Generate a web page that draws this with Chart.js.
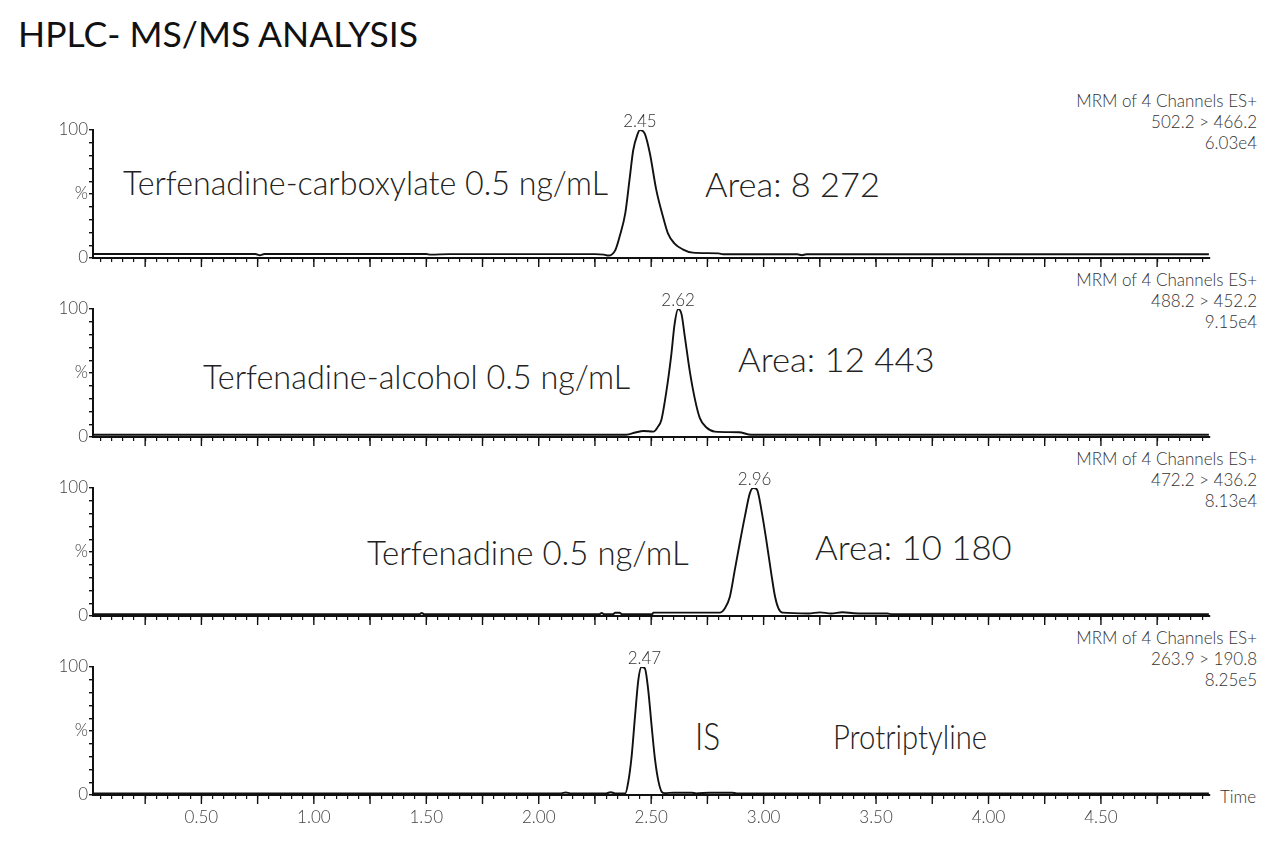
<!DOCTYPE html>
<html>
<head>
<meta charset="utf-8">
<script src="https://cdn.jsdelivr.net/npm/chart.js@4.4.1/dist/chart.umd.min.js"></script>
<style>
body { margin: 0; background: #fff; }
#wrap { position: relative; width: 1280px; height: 853px; overflow: hidden; font-family: Lato, "Open Sans", sans-serif; color: #222; }
.panel { position: absolute; left: 0; width: 1280px; height: 190px; }
.txt { position: absolute; white-space: nowrap; line-height: 1; font-weight: 300; transform-origin: 0 0; }
.mrm { position: absolute; right: 23px; text-align: right; font-size: 17px; line-height: 21px; font-weight: 300; color: #333; }
</style>
</head>
<body>
<div id="wrap"></div>
<script>
// retention time (min) and relative intensity (%)
const carboxylateTime = [0.02, 0.74, 0.76, 0.78, 1.50, 1.52, 1.60, 2.25, 2.29, 2.31, 2.34, 2.36, 2.385, 2.405, 2.42, 2.44, 2.45, 2.472, 2.494, 2.523, 2.553, 2.575, 2.603, 2.64, 2.685, 2.80, 2.82, 3.15, 3.17, 3.19, 4.98];
const carboxylatePct  = [3.1, 3.1, 2.2, 3.1, 3.1, 2.6, 3.0, 3.0, 2.6, 1.9, 6, 17, 35, 63, 84, 97, 100, 97, 82, 53, 32, 19, 11.5, 6.8, 4.2, 3.6, 2.9, 2.9, 2.2, 2.9, 2.9];

const alcoholTime = [0.02, 2.39, 2.43, 2.465, 2.51, 2.53, 2.545, 2.568, 2.59, 2.604, 2.62, 2.635, 2.65, 2.672, 2.694, 2.716, 2.746, 2.783, 2.89, 2.945, 4.98];
const alcoholPct  = [1.8, 1.8, 3.5, 4.7, 4.2, 8, 13, 36, 65, 88, 100, 96, 78, 51, 30, 15, 7.4, 4.2, 3.7, 1.8, 1.8];

const terfenadineTime = [0.02, 1.47, 1.48, 1.49, 2.27, 2.28, 2.29, 2.33, 2.34, 2.36, 2.37, 2.505, 2.51, 2.805, 2.828, 2.85, 2.872, 2.894, 2.917, 2.939, 2.954, 2.97, 2.992, 3.014, 3.036, 3.051, 3.066, 3.085, 3.20, 3.25, 3.30, 3.35, 3.40, 3.45, 3.55, 3.57, 4.98];
const terfenadinePct  = [1.4, 1.4, 2.4, 1.4, 1.4, 2.4, 1.4, 1.4, 2.5, 2.5, 1.4, 1.4, 2.6, 2.6, 6, 15, 36, 57, 78, 96, 100, 99, 81, 57, 31, 15, 6, 2.6, 2.0, 2.8, 2.0, 2.9, 2.2, 2.0, 2.0, 1.4, 1.4];

const protriptylineTime = [0.02, 2.10, 2.12, 2.14, 2.30, 2.32, 2.34, 2.385, 2.398, 2.413, 2.428, 2.443, 2.457, 2.472, 2.487, 2.502, 2.517, 2.532, 2.547, 2.56, 2.60, 2.68, 2.70, 2.76, 2.86, 2.88, 4.98];
const protriptylinePct  = [1.3, 1.3, 2.0, 1.3, 1.3, 2.2, 1.3, 1.3, 10, 30, 61, 90, 100, 99, 82, 54, 28, 11, 2.5, 1.5, 1.8, 1.8, 1.3, 1.8, 1.8, 1.3, 1.3];

const peakTimes = [2.45, 2.62, 2.96, 2.47];
const peakLabels = ['2.45', '2.62', '2.96', '2.47'];
const compoundLabels = ['Terfenadine-carboxylate 0.5 ng/mL', 'Terfenadine-alcohol 0.5 ng/mL', 'Terfenadine 0.5 ng/mL', 'IS'];
const areaLabels = ['Area: 8 272', 'Area: 12 443', 'Area: 10 180', 'Protriptyline'];
const transitions = ['502.2 > 466.2', '488.2 > 452.2', '472.2 > 436.2', '263.9 > 190.8'];
const intensities = ['6.03e4', '9.15e4', '8.13e4', '8.25e5'];
const xTickLabels = ['0.50', '1.00', '1.50', '2.00', '2.50', '3.00', '3.50', '4.00', '4.50'];
const yTickLabels = { 0: '0', 50: '%', 100: '100' };

const series = [
  [carboxylateTime, carboxylatePct],
  [alcoholTime, alcoholPct],
  [terfenadineTime, terfenadinePct],
  [protriptylineTime, protriptylinePct]
];

const wrap = document.getElementById('wrap');
const panelTop = [130, 309, 488, 667]; // pixel of the 100 % line

function addText(str, left, capMid, size, width, weight, color) {
  const d = document.createElement('div');
  d.className = 'txt';
  d.textContent = str;
  d.style.left = left + 'px';
  d.style.top = (capMid - size * 0.53) + 'px';
  d.style.fontSize = size + 'px';
  if (weight) d.style.fontWeight = weight;
  if (color) d.style.color = color;
  wrap.appendChild(d);
  if (width) d.dataset.w = width;
  return d;
}

addText('HPLC- MS/MS ANALYSIS', 18, 35, 35, 400, 400, '#111');
const nameLayout = [[123, 183, 34, 485], [203, 377, 34, 427], [367, 553, 34, 322], [695, 736, 38, 25]];
const areaLayout = [[705, 185, 34, 175], [738, 360, 34, 197], [815, 548, 34, 197], [833, 737, 34, 154]];
compoundLabels.forEach((s, i) => addText(s, ...nameLayout[i]));
areaLabels.forEach((s, i) => addText(s, ...areaLayout[i]));
addText('Time', 1220, 797, 17, 36, 300, '#333');

transitions.forEach((s, i) => {
  const d = document.createElement('div');
  d.className = 'mrm';
  d.style.top = (panelTop[i] - 40) + 'px';
  d.innerHTML = 'MRM of 4 Channels ES+<br>' + s.replace('>', '&gt;') + '<br>' + intensities[i];
  wrap.appendChild(d);
});

document.querySelectorAll('.txt').forEach(d => {
  if (d.dataset.w) d.style.transform = 'scaleX(' + (d.dataset.w / d.offsetWidth) + ')';
});

const axisDeco = {
  id: 'axisDeco',
  afterDraw(chart) {
    const { ctx, scales: { x, y } } = chart;
    ctx.save();
    ctx.strokeStyle = '#111';
    ctx.lineWidth = 1.4;
    for (let k = 1; k < 20; k++) {
      const px = x.getPixelForValue(k * 0.25);
      ctx.beginPath();
      ctx.moveTo(px, y.bottom);
      ctx.lineTo(px, y.bottom + 9);
      ctx.stroke();
    }
    const i = chart.options.panelIndex;
    ctx.fillStyle = '#333';
    ctx.font = '300 17px Lato';
    ctx.textAlign = 'center';
    ctx.fillText(peakLabels[i], x.getPixelForValue(peakTimes[i]), y.getPixelForValue(100) - 3);
    ctx.restore();
  }
};

series.forEach(([t, p], i) => {
  const box = document.createElement('div');
  box.className = 'panel';
  box.style.top = (panelTop[i] - 25) + 'px';
  const cv = document.createElement('canvas');
  box.appendChild(cv);
  wrap.appendChild(box);
  const last = i === series.length - 1;
  new Chart(cv, {
    type: 'line',
    data: {
      datasets: [{
        data: t.map((v, j) => ({ x: v, y: p[j] })),
        borderColor: '#111',
        borderWidth: 1.9,
        pointRadius: 0,
        cubicInterpolationMode: 'monotone',
        fill: false
      }]
    },
    options: {
      panelIndex: i,
      animation: false,
      responsive: true,
      maintainAspectRatio: false,
      layout: { padding: { top: 25, right: 70, left: 0, bottom: 0 } },
      plugins: { legend: { display: false }, tooltip: { enabled: false } },
      scales: {
        x: {
          type: 'linear',
          min: 0.018,
          max: 4.985,
          afterFit: s => { s.height = 37; },
          border: { color: '#111', width: 2 },
          grid: { drawOnChartArea: false, tickLength: 4, color: '#111', lineWidth: 1.2 },
          ticks: {
            stepSize: 0.05,
            includeBounds: false,
            autoSkip: false,
            maxRotation: 0,
            padding: 8,
            color: '#444',
            font: { family: 'Lato', size: 17, weight: 300 },
            callback: v => {
              if (!last) return '';
              const lab = v.toFixed(2);
              return xTickLabels.includes(lab) && Math.abs(v * 2 - Math.round(v * 2)) < 1e-6 ? lab : '';
            }
          }
        },
        y: {
          min: 0,
          max: 100,
          afterFit: s => { s.width = 93; },
          border: { color: '#111', width: 2 },
          grid: { drawOnChartArea: false, tickLength: 4, color: '#111', lineWidth: 1.4 },
          ticks: {
            stepSize: 10,
            autoSkip: false,
            padding: 1,
            color: '#444',
            font: { family: 'Lato', size: 17, weight: 300 },
            callback: v => yTickLabels[v] || ''
          }
        }
      }
    },
    plugins: [axisDeco]
  });
});
</script>
</body>
</html>
